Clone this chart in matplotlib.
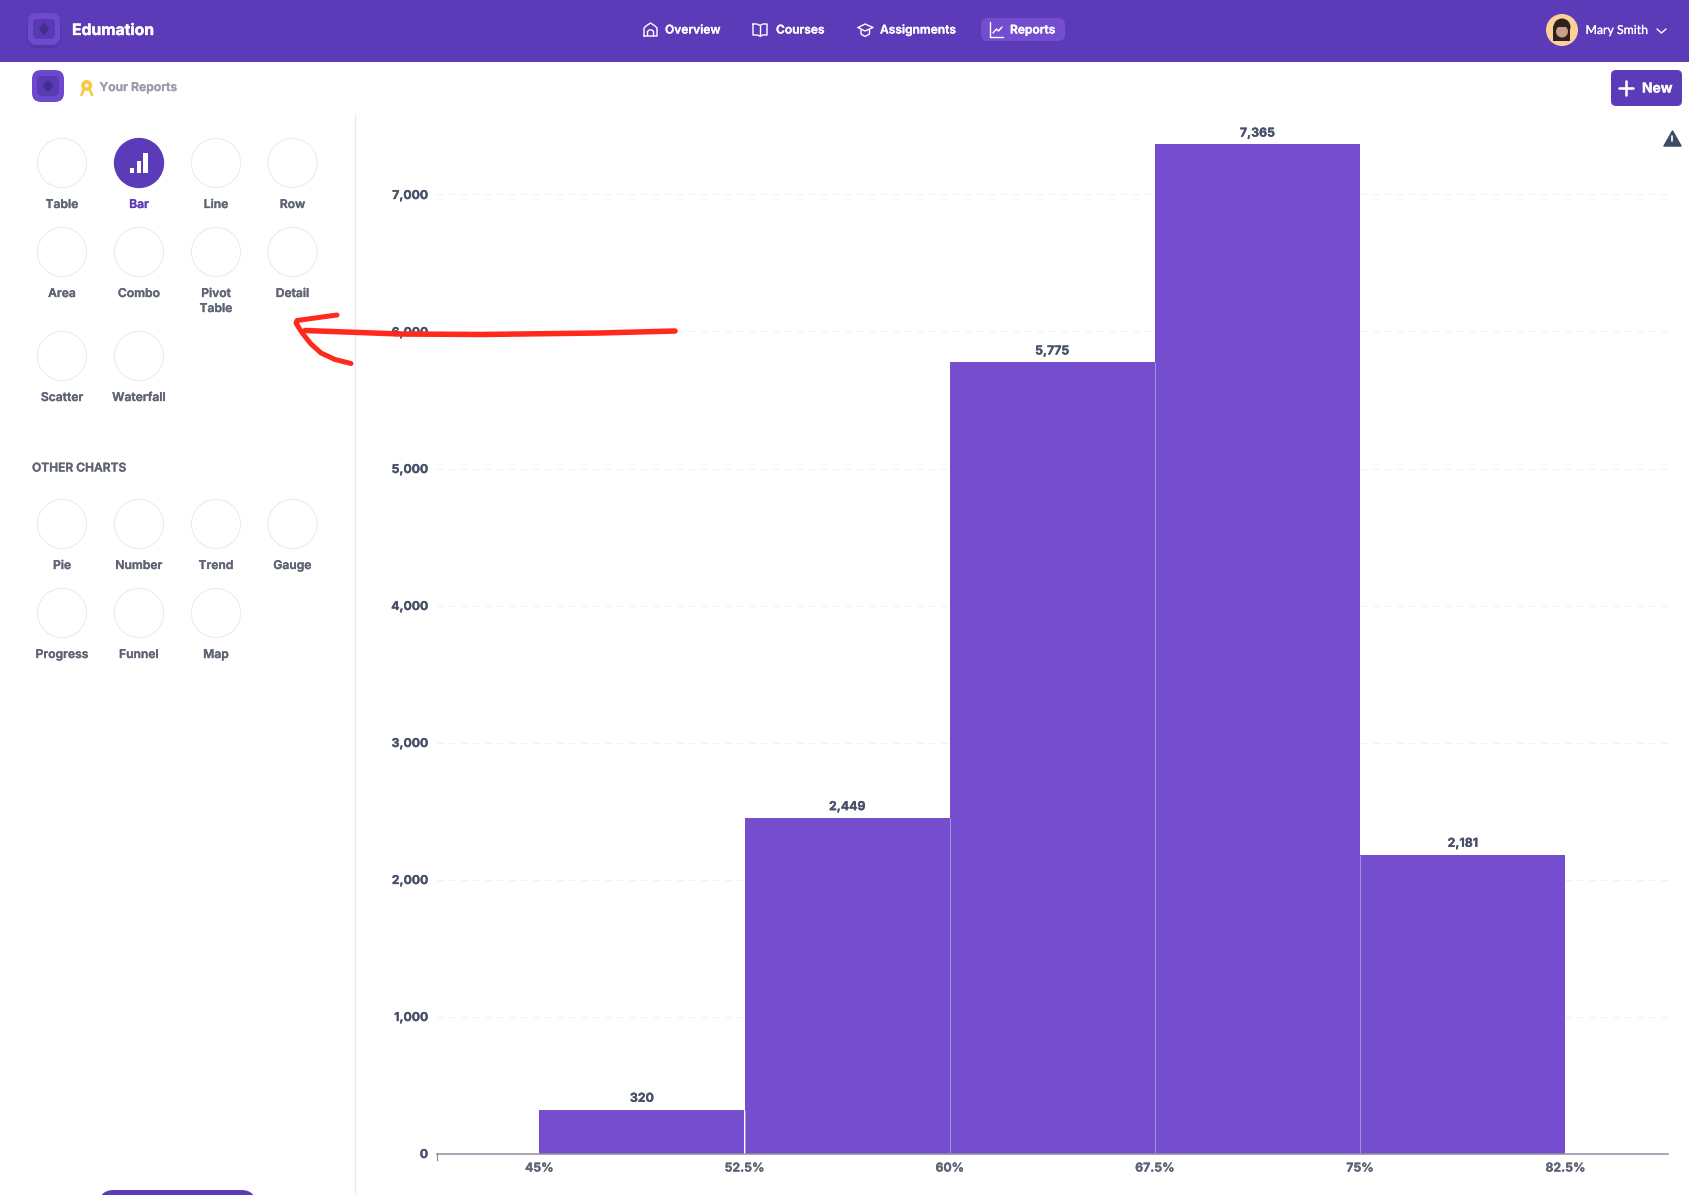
import matplotlib
matplotlib.use("Agg")
import matplotlib.pyplot as plt
from matplotlib.patches import FancyBboxPatch, Circle, Polygon, Rectangle
from matplotlib.patheffects import withStroke
from matplotlib.ticker import FuncFormatter

# ---- data ----
bin_edges = [45, 52.5, 60, 67.5, 75, 82.5]
bin_labels = ["45%", "52.5%", "60%", "67.5%", "75%", "82.5%"]
counts = [320, 2449, 5775, 7365, 2181]
y_ticks = [0, 1000, 2000, 3000, 4000, 5000, 6000, 7000]
row_types = [["Table", "Bar", "Line", "Row"], ["Area", "Combo", "Pivot\nTable", "Detail"], ["Scatter", "Waterfall"]]
other_types = [["Pie", "Number", "Trend", "Gauge"], ["Progress", "Funnel", "Map"]]
nav_items = ["Overview", "Courses", "Assignments", "Reports"]

W, H = 1690, 1195
PURPLE = "#5c3bb8"
BAR = "#754ed0"
DARK = "#48506a"
GREY = "#5f6475"
plt.rcParams["font.family"] = ["Inter", "DejaVu Sans"]
PX = 72 / 100

fig = plt.figure(figsize=(W / 100, H / 100), dpi=100, facecolor="white")
ui = fig.add_axes([0, 0, 1, 1], zorder=0)
ui.set_xlim(0, W)
ui.set_ylim(H, 0)
ui.axis("off")


def embolden(t, amount=0.3):
    t.set_path_effects([withStroke(linewidth=amount * PX, foreground=t.get_color())])
    return t


def rrect(x0, y0, x1, y1, r, color, z=2, ax=ui):
    ax.add_patch(FancyBboxPatch((x0 + r, y0 + r), x1 - x0 - 2 * r, y1 - y0 - 2 * r,
                                boxstyle=f"round,pad={r},rounding_size={r}", fc=color, ec="none", zorder=z))


def txt(x, y, s, size=12.1, color="white", ha="left", z=6, ax=ui, heavy=0.3, weight="semibold", **kw):
    t = ax.text(x, y + 1, s, fontsize=size * PX, color=color, ha=ha, va="center", zorder=z, weight=weight, **kw)
    return embolden(t, heavy) if heavy else t


def line(xs, ys, color="white", lw=1.4, z=6, ax=ui):
    ax.plot(xs, ys, color=color, lw=lw * PX, solid_capstyle="round", solid_joinstyle="round", zorder=z)


def logo(x0, y0, x1, y1, outer, shade=True):
    if shade:
        rrect(x0 - 1, y0 + 2, x1 + 1, y1 + 3, 10, "#5535ae", z=3)
    rrect(x0, y0, x1, y1, 9, outer, z=4)
    rrect(x0 + 5, y0 + 6, x1 - 5, y1 - 6, 5, "#5a3ab4", z=5)
    cx, cy = (x0 + x1) / 2, (y0 + y1) / 2
    ui.add_patch(Polygon([(cx, cy - 5.5), (cx + 5, cy), (cx, cy + 5.5), (cx - 5, cy)], closed=True,
                         fc="#41308e", ec="#41308e", lw=1.2 * PX, joinstyle="round", zorder=6))


# ---- header ----
ui.add_patch(Rectangle((0, 0), W, 62, fc=PURPLE, ec="none", zorder=1))
logo(28, 13, 60, 45, "#6e4bcc")
txt(72, 29.5, "Edumation", size=15.7, heavy=0.4, weight="bold")
rrect(981, 18, 1065, 41, 7, BAR, z=2)
for x, s in zip([665, 776, 880, 1010], nav_items):
    txt(x, 29.5, s, size=12.0)
# home icon
line([644, 644, 646, 650.5, 655, 657, 657, 644], [36, 28, 26, 23, 26, 28, 36, 36])
line([647.5, 647.5, 649, 652, 653.5, 653.5], [36, 31.5, 30, 30, 31.5, 36])
# book icon
line([753, 753, 757, 760, 763, 767, 767, 763, 760, 757, 753], [24, 35, 35, 36, 35, 35, 24, 24, 25.5, 24, 24])
line([760, 760], [25.5, 36])
# cap icon
line([858, 865, 873, 865, 858], [27.5, 24, 27.5, 31, 27.5])
line([861, 861, 865, 869.5, 869.5], [30, 34, 36.5, 34, 30])
# chart icon
line([990, 990, 1003], [22, 36.5, 36.5])
line([993, 996.5, 998.5, 1002], [33, 29, 31, 27])
# avatar
ui.add_patch(Circle((1562, 30), 16, fc="#fbd199", ec="none", zorder=3))
ui.add_patch(Rectangle((1553.5, 26), 17, 15, fc="#2e211f", ec="none", zorder=4))
ui.add_patch(Circle((1562, 27), 8.5, fc="#2e211f", ec="none", zorder=4))
ui.add_patch(Circle((1562, 31.5), 6, fc="#c99f8c", ec="none", zorder=5))
ui.add_patch(Rectangle((1555.5, 22), 13, 4.5, fc="#2e211f", ec="none", zorder=5))
txt(1585.5, 29.5, "Mary Smith", size=12.3, family=["Lato", "DejaVu Sans"], heavy=0.25, weight="normal")
line([1657, 1661.5, 1666], [29, 33, 29], lw=1.4)

# ---- sub header ----
logo(32, 70, 64, 102, "#6c49cc", shade=False)
line([83.5, 81.5], [90, 95], color="#fbc743", lw=2.6)
line([90, 92], [90, 95], color="#fbc743", lw=2.6)
ui.add_patch(Circle((86.7, 85.5), 5.5, fc="#fbc743", ec="none", zorder=5))
ui.add_patch(Circle((86.7, 85.5), 1.9, fc="white", ec="none", zorder=6))
txt(99.5, 87, "Your Reports", color="#9a9cab", size=12.2)
rrect(1611, 70, 1682, 106, 5, PURPLE)
line([1626, 1626], [81, 95], lw=2.6)
line([1619, 1633], [88, 88], lw=2.6)
txt(1642, 87.5, "New", size=13.8, heavy=0.3, weight="bold")
ui.add_patch(Polygon([(1672.5, 131), (1681, 146), (1664, 146)], closed=True, fc="#3f4a63", ec="#3f4a63",
                     lw=1.5 * PX, joinstyle="round", zorder=6))
line([1672.5, 1672.5], [135.5, 140.5], lw=1.7)
line([1672.5, 1672.5], [143.2, 143.4], lw=1.8)

# ---- sidebar ----
ui.plot([355.5, 355.5], [115, H], color="#e8e8ec", lw=1.2 * PX, zorder=1)
col_x = [62, 139, 216, 292.5]
for names, cy, ly in zip(row_types + other_types, [163, 252, 356, 524, 613], [204, 293, 397, 565, 654]):
    for x, name in zip(col_x, names):
        active = name == "Bar"
        ui.add_patch(Circle((x, cy), 24.6, fc=PURPLE if active else "white",
                            ec=PURPLE if active else "#ececf0", lw=1.1 * PX, zorder=3))
        for k, part in enumerate(name.split("\n")):
            txt(x, ly + 15 * k, part, color=PURPLE if active else GREY, ha="center")
for x0, x1, top in [(130, 134.5, 168), (137, 141.5, 160.7), (143.5, 148, 153)]:
    ui.add_patch(Rectangle((x0, top), x1 - x0, 172.7 - top, fc="white", ec="none", zorder=5))
txt(32, 467.5, "OTHER CHARTS", color=GREY, size=12.0)
rrect(99, 1190, 256, 1220, 15, PURPLE)

# ---- chart ----
left, right, base, top = 437, 1668, 1153.5, 115
px_per_unit = 137.0 / 1000
bw_px = 205.2 / 7.5
ax = fig.add_axes([left / W, 1 - base / H, (right - left) / W, (base - top) / H], zorder=1)
ax.patch.set_alpha(0)
ax.set_xlim(45 - (539.3 - left) / bw_px, 82.5 + (right - 1565.3) / bw_px)
ax.set_ylim(0, (base - top) / px_per_unit)
widths = [b - a for a, b in zip(bin_edges[:-1], bin_edges[1:])]
bars = ax.bar(bin_edges[:-1], counts, width=widths, align="edge", color=BAR, linewidth=0, zorder=3)
ax.vlines(bin_edges[1:-1], 0, [min(a, b) for a, b in zip(counts[:-1], counts[1:])],
          color="#a78fe4", lw=1 * PX, zorder=4)
for t in ax.bar_label(bars, labels=[f"{c:,}" for c in counts], padding=3.5, fontsize=12.3 * PX,
                      color=DARK, weight="bold"):
    embolden(t, 0.3)
ax.set_yticks(y_ticks)
ax.yaxis.set_major_formatter(FuncFormatter(lambda v, _: f"{int(v):,}"))
ax.set_xticks(bin_edges)
ax.set_xticklabels(bin_labels)
ax.tick_params(axis="y", length=0, pad=6.5, labelsize=12.2 * PX, labelcolor=DARK)
ax.tick_params(axis="x", length=0, pad=6.5, labelsize=12.2 * PX, labelcolor=GREY)
for lab in ax.get_xticklabels() + ax.get_yticklabels():
    lab.set_fontweight("bold")
    embolden(lab, 0.3)
ax.grid(axis="y", color="#f0f0f4", lw=1 * PX, ls=(0, (6, 6)), zorder=0)
ax.grid(axis="x", visible=False)
for name in ["top", "right", "left"]:
    ax.spines[name].set_visible(False)
ax.spines["bottom"].set_color("#8f8a9e")
ax.spines["bottom"].set_linewidth(1.5 * PX)
ax.spines["bottom"].set_zorder(5)
ui.plot([437, 437], [1153, 1159.5], color="#8f8a9e", lw=1.2 * PX, zorder=2)

# ---- red annotation arrow ----
over = fig.add_axes([0, 0, 1, 1], zorder=5)
over.set_xlim(0, W)
over.set_ylim(H, 0)
over.axis("off")
RED = "#ff2a1c"
line([675, 600, 482, 400, 305], [331, 333, 334.5, 334, 330.5], color=RED, lw=5.5, ax=over)
line([337, 315, 297, 296, 299, 303, 311, 321, 335, 351],
     [315, 318, 320.5, 323, 328, 334, 344, 353, 359.5, 363.5], color=RED, lw=5, ax=over)

fig.savefig("out.png", dpi=100, facecolor="white")
